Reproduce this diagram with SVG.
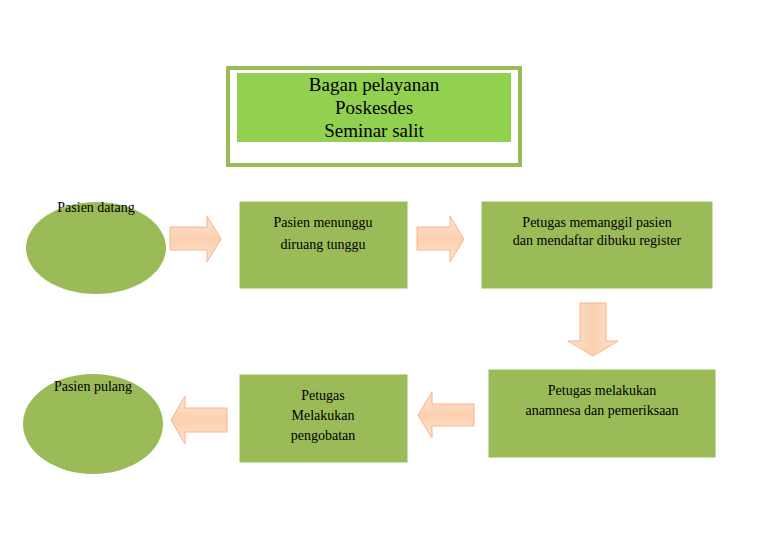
<svg xmlns="http://www.w3.org/2000/svg" width="768" height="543" viewBox="0 0 768 543">
<defs>
<linearGradient id="gh" x1="0" y1="0" x2="0" y2="1"><stop offset="0" stop-color="#fde3cf"/><stop offset="0.5" stop-color="#fbd0b0"/><stop offset="1" stop-color="#fde3cf"/></linearGradient>
<linearGradient id="gv" x1="0" y1="0" x2="1" y2="0"><stop offset="0" stop-color="#fde3cf"/><stop offset="0.5" stop-color="#fbd0b0"/><stop offset="1" stop-color="#fde3cf"/></linearGradient>
</defs>
<style>
.box{fill:#9bbb59;stroke:#fff;stroke-width:1}
.ell{fill:#9bbb59}
.t{font-family:"Liberation Serif",serif;font-size:14px;fill:#000;text-anchor:middle}
.tt{font-family:"Liberation Serif",serif;font-size:19px;fill:#000;text-anchor:middle}
.ar{stroke:#f8b48a;stroke-width:1}
</style>
<rect width="768" height="543" fill="#fff"/>
<g id="title">
<rect x="228" y="68" width="292" height="97" fill="#fff" stroke="#9bbb59" stroke-width="4"/>
<rect x="237" y="73" width="274" height="69" fill="#92d050"/>
<text class="tt" x="374" y="91">Bagan pelayanan</text>
<text class="tt" x="374" y="114">Poskesdes</text>
<text class="tt" x="374" y="137">Seminar salit</text>
</g>
<g id="n1"><ellipse class="ell" cx="96" cy="248" rx="70" ry="46"/><text class="t" x="96" y="212">Pasien datang</text></g>
<g id="n2"><rect class="box" x="239" y="201" width="169" height="88"/><text class="t" x="323" y="227">Pasien menunggu</text><text class="t" x="323" y="249">diruang tunggu</text></g>
<g id="n3"><rect class="box" x="481" y="201" width="232" height="88"/><text class="t" x="597" y="227">Petugas memanggil pasien</text><text class="t" x="597" y="245">dan mendaftar dibuku register</text></g>
<g id="n4"><rect class="box" x="488" y="369" width="228" height="89"/><text class="t" x="602" y="395">Petugas melakukan</text><text class="t" x="602" y="415">anamnesa dan pemeriksaan</text></g>
<g id="n5"><rect class="box" x="239" y="374" width="169" height="89"/><text class="t" x="323" y="400">Petugas</text><text class="t" x="323" y="420">Melakukan</text><text class="t" x="323" y="440">pengobatan</text></g>
<g id="n6"><ellipse class="ell" cx="93" cy="424" rx="70" ry="50"/><text class="t" x="93" y="391">Pasien pulang</text></g>
<g id="connectors">
<path class="ar" fill="url(#gh)" d="M170 227H207V216L221 239L207 262V250H170Z"/>
<path class="ar" fill="url(#gh)" d="M417 227H450V216L464 239L450 262V250H417Z"/>
<path class="ar" fill="url(#gv)" d="M580 303V341H568L593 356L618 341H606V303Z"/>
<path class="ar" fill="url(#gh)" d="M474 404H432V392L418 415L432 438V426H474Z"/>
<path class="ar" fill="url(#gh)" d="M227 408H185V396L171 420L185 444V432H227Z"/>
</g>
</svg>
